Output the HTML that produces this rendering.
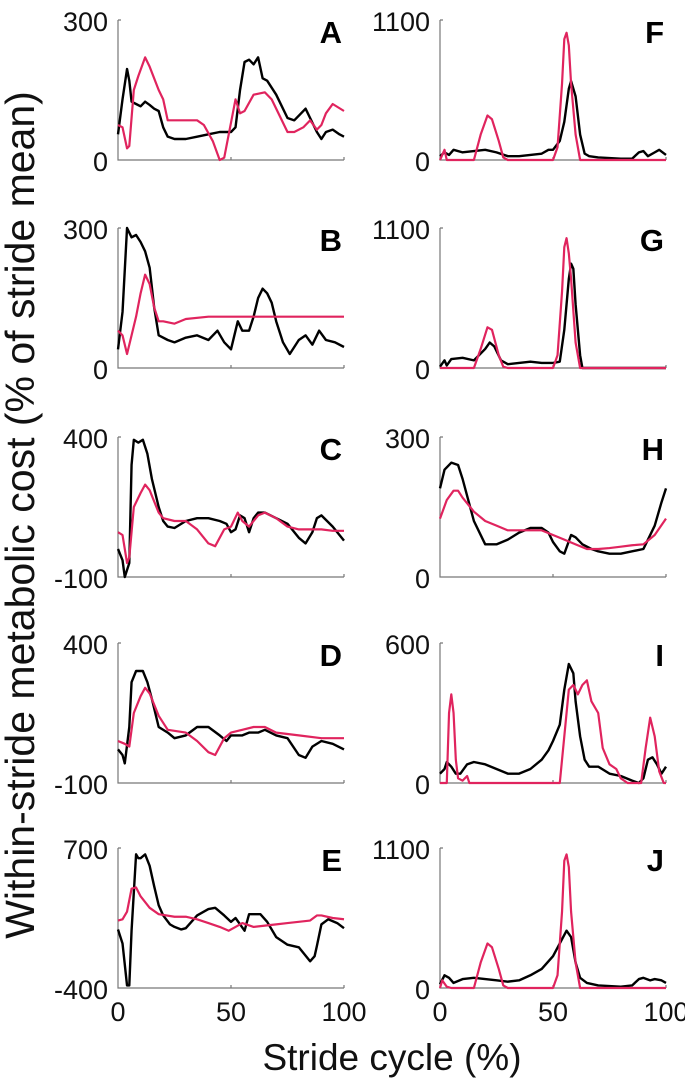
<!DOCTYPE html>
<html><head><meta charset="utf-8"><style>
body{margin:0;background:#fff;}
svg{display:block;font-family:"Liberation Sans",sans-serif;}
</style></head><body>
<svg id="fig" width="685" height="1088">
<text transform="translate(34,515) rotate(-90)" text-anchor="middle" font-size="41" fill="#111">Within-stride metabolic cost (% of stride mean)</text>
<text x="392" y="1070" text-anchor="middle" font-size="37" fill="#111">Stride cycle (%)</text>
</svg>
<script>
const panelLetters=["A","B","C","D","E","F","G","H","I","J"];
const yMins=[0,0,-100,-100,-400,0,0,0,0,0];
const yMaxs=[300,300,400,400,700,1100,1100,300,600,1100];
const blackX=[
[0,2,4,5,6,8,10,12,14,16,18,20,22,25,30,35,40,45,50,52,54,56,58,60,62,64,66,70,75,78,80,83,85,88,90,92,95,98,100],
[0,2,4,6,8,10,12,14,16,18,22,25,30,35,40,44,47,50,53,55,58,60,62,64,66,68,70,73,76,80,83,86,89,92,96,100],
[0,2,3,5,6,7,9,11,13,15,18,20,22,25,30,35,40,45,48,50,52,54,56,58,60,62,65,70,75,80,83,86,88,90,95,100],
[0,2,3,5,6,8,11,13,15,18,22,25,30,35,40,45,48,50,55,58,62,65,70,75,80,83,86,90,95,100],
[0,2,4,5,6,8,9,10,12,14,16,18,20,23,25,28,30,35,40,43,47,50,52,54,56,58,60,63,66,70,75,80,85,87,88,90,93,97,100],
[0,2,4,6,10,15,20,25,30,35,40,45,48,50,53,55,57,58,60,62,64,66,70,80,85,88,90,92,95,97,100],
[0,2,3,5,10,15,20,22,24,27,30,35,40,45,50,53,55,57,58,59,60,62,63,100],
[0,2,5,8,10,15,20,25,30,35,40,45,48,50,53,55,58,60,63,67,70,75,80,85,90,95,98,100],
[0,2,3,5,7,9,12,15,20,25,30,35,40,45,48,50,53,55,57,59,60,62,64,66,70,75,80,85,88,90,92,94,96,98,100],
[0,2,4,6,10,15,20,25,30,35,40,45,50,53,56,58,60,62,65,70,80,85,88,90,93,95,98,100]];
const blackY=[
[55,130,195,170,125,120,115,125,118,110,105,70,50,45,45,50,55,60,60,70,150,210,215,205,220,175,170,140,90,85,95,110,90,60,45,60,65,55,50],
[40,120,300,280,285,270,250,215,130,70,60,55,65,70,60,80,55,40,100,80,80,110,150,170,160,140,100,55,30,60,70,50,80,60,55,45],
[0,-40,-100,-50,300,390,380,390,340,250,150,100,80,75,100,110,110,100,90,60,70,120,110,60,110,130,130,110,90,40,20,60,110,120,80,30],
[20,0,-30,100,260,300,300,260,200,100,80,60,70,100,100,70,50,70,70,80,80,90,70,60,0,-10,30,50,40,20],
[60,-50,-380,-380,50,650,620,620,650,560,400,250,170,100,80,60,70,170,220,230,170,120,150,100,50,180,180,180,120,0,-60,-80,-190,-150,-70,100,140,110,70],
[30,60,40,80,60,70,80,60,30,30,40,50,80,80,150,300,560,620,500,200,50,30,20,10,10,60,70,30,60,80,40],
[10,60,20,70,80,60,150,200,170,60,30,40,50,40,40,50,300,700,820,780,500,100,0,0],
[190,230,245,240,210,120,70,70,80,95,105,105,95,75,55,50,90,85,70,60,55,50,50,55,60,110,160,190],
[40,60,90,70,40,40,80,90,80,60,40,40,60,100,140,180,250,400,510,470,350,200,100,70,70,40,30,10,0,20,100,110,80,40,70],
[30,100,80,40,70,80,70,60,50,60,100,150,250,350,450,400,200,80,40,20,10,20,70,80,60,70,60,40]];
const redX=[
[0,2,4,5,7,9,12,14,18,20,22,25,30,35,38,42,45,47,50,52,54,56,60,65,68,72,75,78,82,85,88,90,92,95,100],
[0,2,4,6,8,10,12,14,16,18,20,25,30,40,50,60,100],
[0,2,4,5,7,10,12,14,18,20,25,30,35,40,43,47,50,53,55,58,62,65,70,75,80,85,90,95,100],
[0,3,5,7,10,12,14,18,22,30,35,40,43,47,50,55,60,65,70,80,90,100],
[0,2,4,6,8,10,14,18,25,30,35,40,45,49,52,55,60,65,70,75,80,85,88,90,95,100],
[0,2,3,10,15,18,21,23,26,28,30,45,50,52,54,55,56,57,58,60,62,100],
[0,10,15,18,21,23,26,28,30,50,52,54,55,56,57,58,60,62,100],
[0,3,6,8,10,15,20,25,30,40,45,50,55,60,65,70,75,80,85,90,95,100],
[0,3,4,5,6,7,8,10,12,13,50,53,55,57,59,61,63,65,67,70,72,75,78,80,83,89,91,93,95,97,99,100],
[0,1,3,5,15,18,21,23,26,28,30,50,52,54,55,56,57,58,60,62,100]];
const redY=[
[75,70,25,30,150,180,220,200,150,130,85,85,85,85,75,40,0,5,80,130,100,105,140,145,130,90,60,60,70,85,65,75,100,120,105],
[80,70,30,70,110,160,200,180,130,100,100,95,105,110,110,110,110],
[60,50,-50,-30,150,200,230,210,130,110,100,100,70,20,10,70,80,130,100,80,120,130,110,80,70,70,70,65,65],
[50,40,30,150,210,240,220,140,90,80,50,10,0,60,80,90,100,100,80,70,60,60],
[130,140,200,380,390,320,230,180,160,160,140,110,80,50,80,110,80,90,100,110,120,130,170,170,150,140],
[0,80,0,0,0,200,350,320,150,20,0,0,0,100,600,950,1000,900,600,200,0,0],
[0,0,0,150,320,300,100,10,0,0,100,600,950,1020,900,700,200,0,0],
[125,165,185,185,170,140,120,110,100,100,100,90,80,70,60,60,62,65,68,70,90,125],
[0,0,300,380,300,100,20,10,30,0,0,0,200,400,420,380,420,440,350,300,150,80,60,20,0,0,150,280,200,50,0,0],
[0,60,10,0,0,200,350,320,150,20,0,0,100,600,1000,1050,950,600,200,0,0]];
const NS="http://www.w3.org/2000/svg";
const svg=document.getElementById('fig');
const rowTops=[20,228,437,643,848], rowH=140;
const colLeft=[118,440], colW=226;
function mk(t,a){const e=document.createElementNS(NS,t);for(const k in a)e.setAttribute(k,a[k]);svg.appendChild(e);return e;}
for(let p=0;p<10;p++){
  const col=p<5?0:1,row=p%5;
  const x0=colLeft[col],top=rowTops[row],bot=top+rowH;
  const sx=v=>x0+v/100*colW;
  const sy=v=>bot-(v-yMins[p])/(yMaxs[p]-yMins[p])*rowH;
  const ax=mk('path',{d:`M${x0},${top} L${x0},${bot} L${x0+colW},${bot} M${sx(50)},${bot} l0,-3 M${x0+colW},${bot} l0,-3 M${x0},${top} l3,0`,stroke:'#777','stroke-width':1.2,fill:'none'});
  
  
  const t1=mk('text',{x:x0-10,y:top+11,'text-anchor':'end','font-size':27,fill:'#111'});t1.textContent=yMaxs[p];
  
  
  const t2=mk('text',{x:x0-10,y:bot+11,'text-anchor':'end','font-size':27,fill:'#111'});t2.textContent=yMins[p];
  
  
  const L=mk('text',{x:x0+colW-2,y:top+23,'text-anchor':'end','font-size':31,'font-weight':'bold',fill:'#000'});L.textContent=panelLetters[p];
  
  
  const pb=mk('polyline',{points:blackX[p].map((v,i)=>sx(v)+','+sy(blackY[p][i])).join(' '),fill:'none',stroke:'#000','stroke-width':2.4,'stroke-linejoin':'round'});
  
  
  const pr=mk('polyline',{points:redX[p].map((v,i)=>sx(v)+','+sy(redY[p][i])).join(' '),fill:'none',stroke:'#e0245e','stroke-width':2.2,'stroke-linejoin':'round'});
  
  
  if(row===4){
    [0,50,100].forEach(v=>{const t=mk('text',{x:sx(v),y:bot+33,'text-anchor':'middle','font-size':27,fill:'#111'});t.textContent=v;
      
      });
  }
}
</script>
</body></html>
